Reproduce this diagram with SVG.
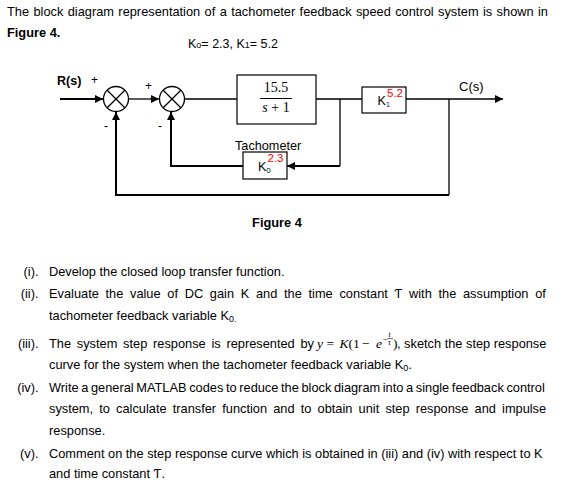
<svg xmlns="http://www.w3.org/2000/svg" width="565" height="502" viewBox="0 0 565 502">
<defs>
<style>
.t{font-family:"Liberation Sans",Arial,sans-serif;font-size:12.8px;fill:#000}
.b{font-weight:bold}
.d{font-family:"Liberation Sans",Arial,sans-serif;fill:#000}
.m{font-family:"Liberation Serif","Times New Roman",serif;fill:#000}
.red{fill:#ff0000;font-family:"Liberation Sans",Arial,sans-serif;font-size:11.5px}
.ln{stroke:#000;fill:none;stroke-width:1.3}
.thk{stroke:#000;fill:none;stroke-width:2}
.blk{fill:#fff;stroke:#000;stroke-width:1.2}
.sj{fill:#fff;stroke:#000;stroke-width:1.3}
</style>
<marker id="ah" viewBox="0 0 10 10" refX="10" refY="5" markerWidth="8" markerHeight="8" markerUnits="userSpaceOnUse" orient="auto">
<path d="M0,0 L10,5 L0,10 z" fill="#000"/>
</marker>
</defs>
<rect width="565" height="502" fill="#fff"/>

<!-- header text -->
<text class="t" x="7" y="16" word-spacing="0.85">The block diagram representation of a tachometer feedback speed control system is shown in</text>
<text class="t b" x="7" y="37">Figure 4.</text>
<text class="d" x="188" y="48" font-size="12.5">K<tspan font-size="9">o</tspan>= 2.3, K<tspan font-size="9">1</tspan>= 5.2</text>

<!-- connectors -->
<g id="connectors">
<line class="thk" x1="60" y1="99" x2="103" y2="99" marker-end="url(#ah)"/>
<line class="ln" x1="128.5" y1="99" x2="159" y2="99" marker-end="url(#ah)"/>
<line class="ln" x1="184.5" y1="99" x2="237" y2="99"/>
<line class="ln" x1="316" y1="99" x2="362" y2="99"/>
<line class="ln" x1="340" y1="99" x2="340" y2="166"/>
<line class="thk" x1="340" y1="166" x2="287" y2="166" marker-end="url(#ah)"/>
<polyline class="thk" points="243,166 171,166 171,112" marker-end="url(#ah)"/>
<line class="ln" x1="406" y1="99" x2="503" y2="99" marker-end="url(#ah)"/>
<line class="ln" x1="449" y1="99" x2="449" y2="195"/>
<polyline class="thk" points="449,195 116,195 116,112" marker-end="url(#ah)"/>
</g>

<!-- summing junction 1 -->
<g id="sum1">
<circle class="sj" cx="116" cy="99" r="12.5"/>
<path class="ln" d="M107.2,90.2 L124.8,107.8 M124.8,90.2 L107.2,107.8"/>
<text class="d" x="91" y="84" font-size="12">+</text>
<text class="d" x="104" y="130" font-size="12">-</text>
</g>

<!-- summing junction 2 -->
<g id="sum2">
<circle class="sj" cx="172" cy="99" r="12.5"/>
<path class="ln" d="M163.2,90.2 L180.8,107.8 M180.8,90.2 L163.2,107.8"/>
<text class="d" x="145" y="90" font-size="12">+</text>
<text class="d" x="158" y="130" font-size="12">-</text>
</g>

<g id="input">
<text class="d b" x="57" y="85" font-size="12.5">R(s)</text>
</g>

<g id="output">
<text class="d" x="459" y="91" font-size="13">C(s)</text>
</g>

<!-- plant block -->
<g id="plant">
<rect class="blk" x="237" y="75" width="79" height="49"/>
<text class="m" x="276" y="92" font-size="14" text-anchor="middle">15.5</text>
<line x1="260" y1="98.5" x2="292" y2="98.5" stroke="#000" stroke-width="1"/>
<text class="m" x="276" y="112" font-size="14" text-anchor="middle"><tspan font-style="italic">s</tspan> + 1</text>
</g>

<!-- K1 block -->
<g id="k1">
<rect class="blk" x="362" y="87" width="44" height="26"/>
<text class="d" x="377.5" y="105" font-size="12.5">K<tspan font-size="8" dy="1.5" fill="#3a1a6a">1</tspan></text>
<text class="red" x="387" y="97">5.2</text>
</g>

<!-- tachometer block -->
<g id="tach">
<text class="d" x="235" y="150" font-size="12.7">Tachometer</text>
<rect class="blk" x="243" y="152" width="44" height="27"/>
<text class="d" x="258" y="171" font-size="12.5">K<tspan font-size="8" dy="1.5">0</tspan></text>
<text class="red" x="267.5" y="161.5">2.3</text>
</g>

<text class="t b" x="277" y="227" text-anchor="middle">Figure 4</text>

<!-- questions -->
<g id="questions">
<text class="t" x="38.5" y="276" text-anchor="end">(i).</text>
<text class="t" x="49" y="276">Develop the closed loop transfer function.</text>

<text class="t" x="38.5" y="298" text-anchor="end">(ii).</text>
<text class="t" x="49" y="298" word-spacing="3.15">Evaluate the value of DC gain K and the time constant Ƭ with the assumption of</text>
<text class="t" x="49" y="320">tachometer feedback variable K<tspan font-size="9" dy="2">0.</tspan></text>

<text class="t" x="38.5" y="348" text-anchor="end">(iii).</text>
<text class="t" x="49" y="348" word-spacing="2.2">The system step response is represented by</text>
<text class="m" x="317" y="348" font-size="13.5" font-style="italic">y</text>
<text class="m" x="326.5" y="348" font-size="13.5">=</text>
<text class="m" x="339.5" y="348" font-size="13.5" font-style="italic">K</text>
<text class="m" x="348.5" y="348" font-size="13.5">(1</text>
<text class="m" x="362" y="348" font-size="13.5">−</text>
<text class="m" x="376" y="348" font-size="13.5" font-style="italic">e</text>
<text class="m" x="382.5" y="341.5" font-size="9">−</text>
<text class="m" x="388.5" y="336.5" font-size="8" font-style="italic">t</text>
<line x1="387.5" y1="338.5" x2="393" y2="338.5" stroke="#000" stroke-width="0.6"/>
<text class="m" x="388" y="344.5" font-size="8" font-style="italic">τ</text>
<text class="m" x="393" y="348" font-size="13.5">)</text>
<text class="t" x="397" y="348">, sketch the step response</text>
<text class="t" x="49" y="369">curve for the system when the tachometer feedback variable K<tspan font-size="9" dy="2">0</tspan><tspan dy="-2">.</tspan></text>

<text class="t" x="38.5" y="392" text-anchor="end">(iv).</text>
<text class="t" x="49" y="392" word-spacing="-0.93">Write a general MATLAB codes to reduce the block diagram into a single feedback control</text>
<text class="t" x="49" y="413" word-spacing="2.6">system, to calculate transfer function and to obtain unit step response and impulse</text>
<text class="t" x="49" y="435">response.</text>

<text class="t" x="38.5" y="458" text-anchor="end">(v).</text>
<text class="t" x="49" y="458">Comment on the step response curve which is obtained in (iii) and (iv) with respect to K</text>
<text class="t" x="49" y="478">and time constant Ƭ.</text>
</g>
</svg>
